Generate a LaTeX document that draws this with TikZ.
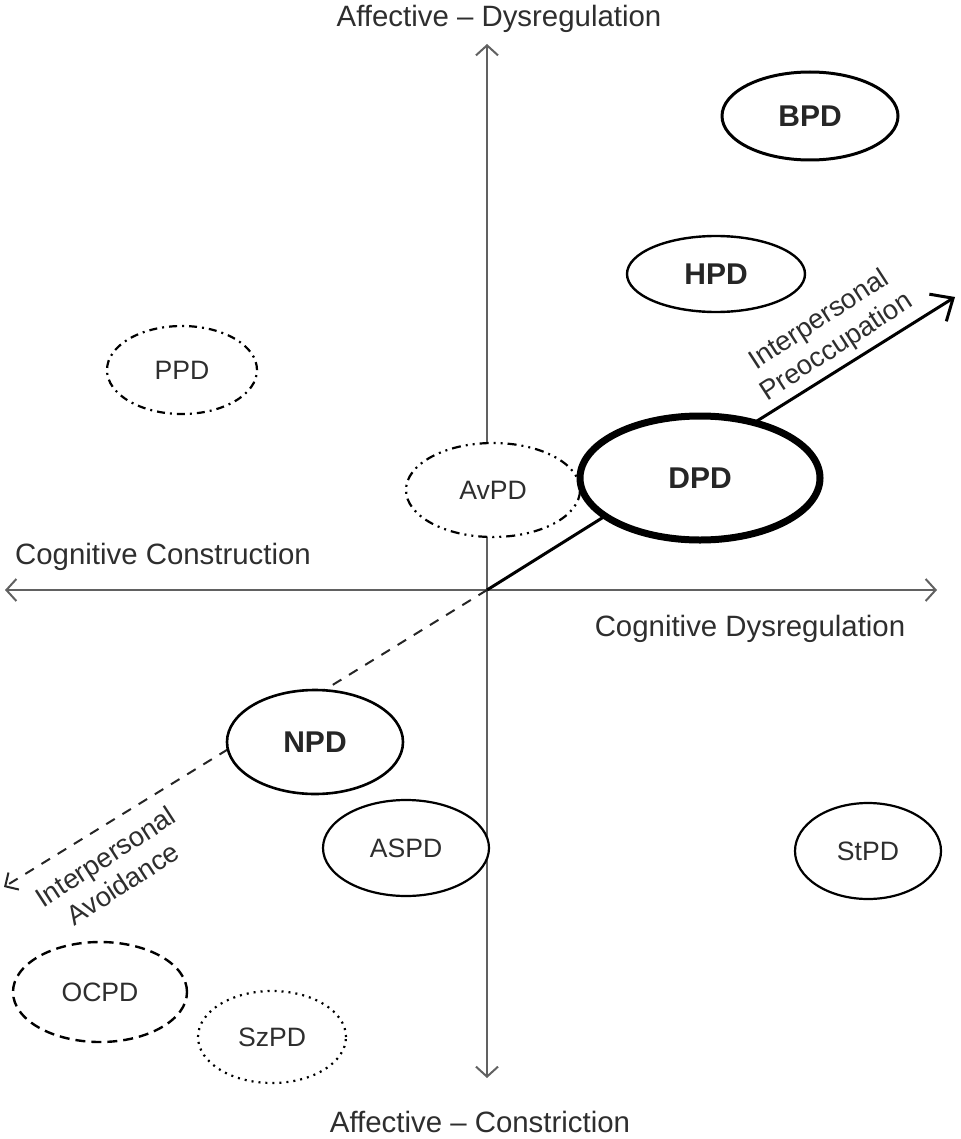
\documentclass[tikz,border=0pt]{standalone}
\usepackage{fontspec}
\setmainfont{Liberation Sans}
\usetikzlibrary{shapes.geometric,arrows.meta}
\definecolor{axisgray}{gray}{0.38}
\definecolor{txtgray}{gray}{0.18}
\tikzset{
  axisline/.style={line width=1.3pt, draw=axisgray, arrows={Straight Barb[length=5pt,width=11pt,line width=1pt]-Straight Barb[length=5pt,width=11pt,line width=1pt]}},
  axislabel/.style={text=txtgray, font=\fontsize{14.7}{17}\selectfont, anchor=base, inner sep=0pt},
  pd/.style={ellipse, draw=black, fill=white, inner sep=0pt, line width=1.1pt, text=txtgray, font=\fontsize{13.3}{16}\selectfont},
  pdbold/.style={pd, font=\fontsize{15}{18}\selectfont\bfseries, text=black!85},
  rotlabel/.style={text=txtgray, font=\fontsize{13.7}{16}\selectfont, align=center, rotate=33, inner sep=0pt},
}
\begin{document}
\begin{tikzpicture}[x=0.5pt,y=-0.5pt]
\useasboundingbox (0,0) rectangle (960,1139);
% axes
\coordinate (O) at (487,590);
\coordinate (top) at (487,44);
\coordinate (bot) at (487,1078);
\coordinate (left) at (5,590);
\coordinate (right) at (937,590);
\draw[axisline] (bot) -- (top);
\draw[axisline] (left) -- (right);
% interpersonal dimension
\coordinate (pre) at (955,297);
\coordinate (avo) at (4,887);
\draw[line width=1.5pt, black, -{Straight Barb[length=9pt,width=16pt,line width=1.5pt]}] (O) -- (pre);
\draw[line width=1pt, black!85, dash pattern=on 5pt off 4.5pt, -{Straight Barb[length=5pt,width=10pt,line width=1pt]}] (O) -- (avo);
% axis labels
\node[axislabel] (ad) at (499,27) {Affective – Dysregulation};
\node[axislabel] (ac) at (480,1132) {Affective – Constriction};
\node[axislabel] (cc) at (163,564) {Cognitive Construction};
\node[axislabel] (cd) at (750,636) {Cognitive Dysregulation};
\node[rotlabel] (ip) at (828,334) {Interpersonal\\Preoccupation};
\node[rotlabel] (ia) at (114,870) {Interpersonal\\Avoidance};
% personality disorders
\node[pdbold, line width=1.5pt, minimum width=88pt, minimum height=44pt] (BPD) at (810,116) {BPD};
\node[pdbold, line width=1.2pt, minimum width=89pt, minimum height=38pt] (HPD) at (716,274) {HPD};
\node[pd, dash pattern=on 4pt off 2.5pt on 1pt off 2.5pt, minimum width=75pt, minimum height=44pt] (PPD) at (182,370) {PPD};
\node[pd, dash pattern=on 4.5pt off 2.5pt on 1pt off 2.5pt on 1pt off 2.5pt, minimum width=87pt, minimum height=47pt] (AvPD) at (493,490) {AvPD};
\node[pdbold, line width=3.5pt, minimum width=120pt, minimum height=62pt] (DPD) at (700,478) {DPD};
\node[pdbold, line width=1.3pt, minimum width=88pt, minimum height=52pt] (NPD) at (315,742) {NPD};
\node[pd, minimum width=83pt, minimum height=48pt] (ASPD) at (406,848) {ASPD};
\node[pd, minimum width=73pt, minimum height=48pt] (StPD) at (868,851) {StPD};
\node[pd, line width=1.2pt, dash pattern=on 5pt off 3pt, minimum width=87pt, minimum height=50pt] (OCPD) at (100,992) {OCPD};
\node[pd, dash pattern=on 1pt off 2.5pt, minimum width=74pt, minimum height=46pt] (SzPD) at (272,1037) {SzPD};
\end{tikzpicture}
\end{document}
